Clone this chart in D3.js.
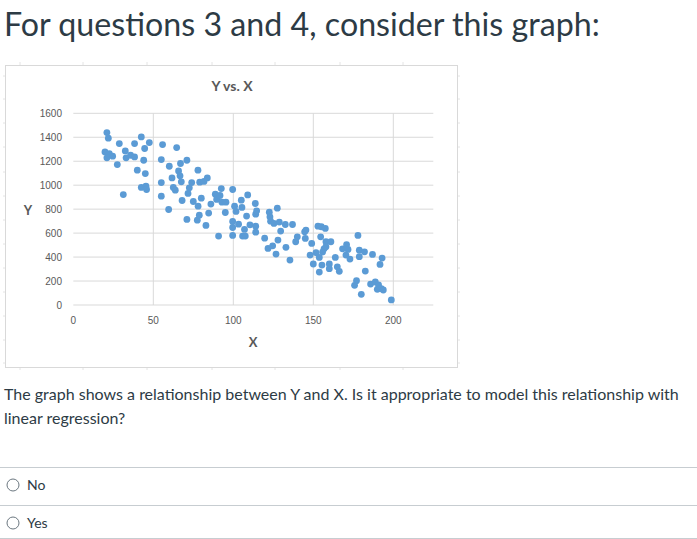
<!DOCTYPE html>
<html><head><meta charset="utf-8">
<script src="https://cdn.jsdelivr.net/npm/d3@7"></script>
<style>
body{margin:0;background:#fff;font-family:Lato,"Noto Sans",sans-serif;}
</style></head>
<body><svg id="c" width="697" height="539"></svg>
<script>
// x,y pairs
const pts = [
[21,1439],[21.9,1392],[19.8,1278],[22.5,1264],[21,1228],[24.6,1242],[27.5,1172],[28.75,1347],
[31.25,922],[32.5,1286],[33,1228],[35.8,1250],[38.3,1347],[38.3,1236],[40,1125],[42.5,1403],
[42.5,981],[44,1208],[44.6,1306],[45,1097],[45.4,992],[45.8,964],[47.5,1356],[55,1214],
[55,1022],[55,908],[55.8,1339],[59.6,797],[60,1158],[61.7,1061],[62.5,981],[63.75,958],
[64.6,1314],[65.8,1119],[66.7,1078],[67,1181],[67.5,1028],[68,872],[71,1208],[71,714],
[71.7,931],[72.5,978],[74,1022],[75,864],[77.9,1125],[77.5,708],[78,825],[78.75,750],
[79,1025],[80,892],[81.7,1031],[82.9,664],[83.75,1061],[84.6,767],[86,842],[90.8,575],
[88.75,925],[89.6,881],[91.7,914],[92.5,972],[92.9,858],[95.4,858],[95,772],[99.6,964],
[99.6,697],[99.6,647],[99.6,581],[100.8,825],[101.7,781],[103.3,675],[105,875],[105.4,814],
[105.8,575],[107,631],[107.5,575],[108.3,742],[109,919],[110.4,669],[113.75,847],[114,758],
[114,658],[114,608],[114.6,786],[119.6,558],[121.7,472],[122.5,775],[122.9,736],[123.3,700],
[124.6,494],[125.4,681],[126.7,425],[127.5,808],[127.9,542],[128.75,692],[129.6,617],[132.5,672],
[132.9,481],[135.4,375],[137,672],[139,528],[140,569],[144.6,611],[145.4,625],[145,556],
[148,417],[149,514],[150,342],[151.7,436],[152.9,658],[153.75,275],[153.75,397],[154.6,569],
[155,653],[155.4,333],[155.8,442],[156.7,469],[157.5,639],[157.9,528],[157.9,486],[161,528],
[160,342],[160,303],[163.75,397],[165,319],[166.25,281],[168.3,469],[170.4,417],[170.8,503],
[171.7,464],[172.9,383],[175.8,164],[177,203],[177.9,581],[178.75,458],[178.75,403],[180,89],
[182,444],[182.5,283],[185.8,175],[187,422],[188.75,192],[190,131],[190.8,167],[191.7,339],
[192.5,136],[193,392],[193.75,125],[198.75,42]
];
const xTicks = [0,50,100,150,200];
const yTicks = [0,200,400,600,800,1000,1200,1400,1600];
const options = ["No","Yes"];

const svg = d3.select("#c");
const grey = "#595959";
const tickFont = "'Liberation Sans',Arial,sans-serif";

svg.append("text").attr("x",4).attr("y",36).attr("font-size",32.2).attr("fill","#2d3b45")
  .text("For questions 3 and 4, consider this graph:");

// faint spreadsheet cells behind the chart
const cells = svg.append("g").attr("stroke","#e4e4e4");
[20,83,147,212,275,340,403].forEach(x=>cells.append("line").attr("x1",x).attr("x2",x).attr("y1",62).attr("y2",370));
[76,99,123,147,172,196,220,244,268,292,316,340,363].forEach(y=>cells.append("line").attr("x1",3).attr("x2",460).attr("y1",y).attr("y2",y));
svg.append("rect").attr("x",5.5).attr("y",65.5).attr("width",452).attr("height",302)
  .attr("fill","#fff").attr("stroke","#d9d9d9");

const x = d3.scaleLinear().domain([0,225]).range([73.3,433.3]);
const y = d3.scaleLinear().domain([0,1600]).range([305,113.3]);

const g = svg.append("g");
g.selectAll(".hg").data(yTicks).join("line")
  .attr("x1",x(0)).attr("x2",x(225)).attr("y1",d=>y(d)).attr("y2",d=>y(d))
  .attr("stroke","#d9d9d9");
g.selectAll(".vg").data(xTicks.slice(1)).join("line")
  .attr("y1",y(0)).attr("y2",y(1600)).attr("x1",d=>x(d)).attr("x2",d=>x(d))
  .attr("stroke","#d9d9d9");

g.selectAll(".yt").data(yTicks).join("text")
  .attr("x",62).attr("y",d=>y(d)+3.5).attr("text-anchor","end")
  .attr("font-size",10).attr("fill",grey).attr("font-family",tickFont).text(d=>d);
g.selectAll(".xt").data(xTicks).join("text")
  .attr("x",d=>x(d)).attr("y",324).attr("text-anchor","middle")
  .attr("font-size",10).attr("fill",grey).attr("font-family",tickFont).text(d=>d);

g.selectAll("circle").data(pts).join("circle")
  .attr("cx",d=>x(d[0])).attr("cy",d=>y(d[1])).attr("r",3.4).attr("fill","#5b9bd5");

svg.append("text").attr("x",232).attr("y",91).attr("text-anchor","middle")
  .attr("font-size",14).attr("font-weight","bold").attr("fill",grey).text("Y vs. X");
svg.append("text").attr("x",253).attr("y",347).attr("text-anchor","middle")
  .attr("font-size",13).attr("font-weight","bold").attr("fill",grey).text("X");
svg.append("text").attr("x",28).attr("y",215).attr("text-anchor","middle")
  .attr("font-size",13).attr("font-weight","bold").attr("fill",grey).text("Y");

svg.append("text").attr("x",4).attr("y",400).attr("font-size",16).attr("fill","#2d3b45")
  .text("The graph shows a relationship between Y and X. Is it appropriate to model this relationship with");
svg.append("text").attr("x",4).attr("y",424).attr("font-size",16).attr("fill","#2d3b45")
  .text("linear regression?");

const opt = svg.selectAll(".opt").data(options).join("g")
  .attr("transform",(d,i)=>`translate(0,${467+i*38})`);
opt.append("line").attr("x1",0).attr("x2",697).attr("y1",0.5).attr("y2",0.5).attr("stroke","#c7cdd1");
opt.append("circle").attr("cx",13).attr("cy",18).attr("r",6).attr("fill","#fff").attr("stroke","#6b7780");
opt.append("text").attr("x",27).attr("y",23).attr("font-size",14).attr("fill","#2d3b45").text(d=>d);
svg.append("line").attr("x1",0).attr("x2",697).attr("y1",538.5).attr("y2",538.5).attr("stroke","#c7cdd1");
</script></body></html>
